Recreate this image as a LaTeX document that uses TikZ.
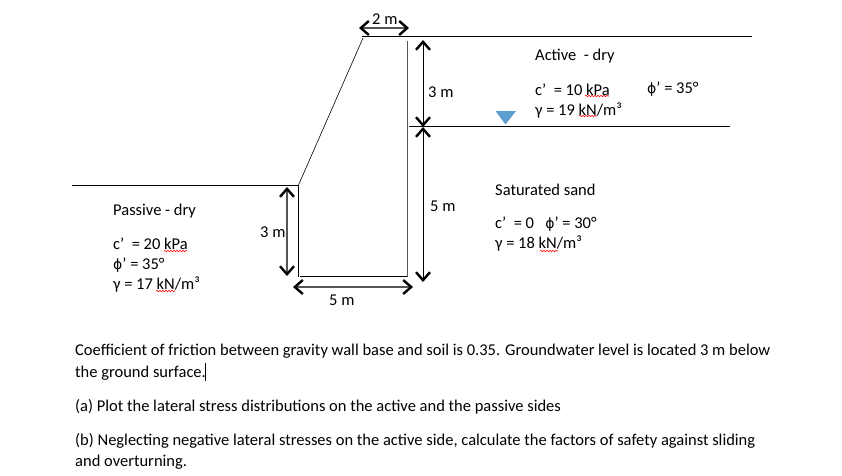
\documentclass[tikz,border=0pt]{standalone}
\usepackage{fontspec}
\setmainfont{Carlito}
\usetikzlibrary{arrows.meta,decorations.pathmorphing}
\definecolor{watercol}{HTML}{5F9FCF}
\definecolor{shaftcol}{HTML}{555555}
\tikzset{
    lbl/.style={anchor=base west, inner sep=0pt, font=\fontsize{16.5}{19}\selectfont},
    dimline/.style={{Straight Barb[length=8pt,width=14pt,line width=2.4pt,color=black]}-{Straight Barb[length=8pt,width=14pt,line width=2.4pt,color=black]}, draw=shaftcol, line width=1.2pt},
    squiggle/.style={red, line width=0.6pt, decorate, decoration={snake, amplitude=0.7pt, segment length=3pt}}
}
\newcommand{\phichar}{\fontspec{DejaVu Sans}\fontsize{14}{16}\selectfont ϕ}
\begin{document}
\begin{tikzpicture}[x=1pt,y=-1pt]
    \useasboundingbox (0,0) rectangle (842,475);

    % ground and wall
    \coordinate (wallTL) at (363,38);
    \coordinate (wallKnee) at (298.5,185);
    \coordinate (wallBL) at (298.5,277);
    \coordinate (wallBR) at (407,276.5);
    \coordinate (wallTR) at (407,41);
    \coordinate (passiveEnd) at (72,185);
    \coordinate (activeStart) at (362,36.5);
    \coordinate (activeEnd) at (752,36.5);
    \coordinate (waterStart) at (409,126.5);
    \coordinate (waterEnd) at (730,126.5);

    \draw[line width=0.8pt] (activeStart) -- (activeEnd);
    \draw[line width=0.8pt] (waterStart) -- (waterEnd);
    \draw[line width=0.8pt] (passiveEnd) -- (wallKnee);
    \draw[line width=0.6pt] (wallTL) -- (wallKnee);
    \draw[line width=0.8pt] (wallKnee) -- (wallBL);
    \draw[line width=0.8pt] (300,276.5) -- (wallBR);
    \draw[draw=shaftcol, line width=0.9pt] (wallTR) -- (wallBR);

    % water table
    \fill[watercol] (495.5,111) -- (516,111) -- (505.5,124.5) -- cycle;

    % dimensions
    \coordinate (dimTopA) at (359,28);
    \coordinate (dimTopB) at (409,28);
    \coordinate (dimA) at (423,40);
    \coordinate (dimB) at (423,127);
    \coordinate (dimC) at (423,282);
    \coordinate (dimLeftA) at (287,187);
    \coordinate (dimLeftB) at (287,276);
    \coordinate (dimBaseA) at (293,287);
    \coordinate (dimBaseB) at (413,287);

    \draw[dimline] (dimTopA) -- (dimTopB);
    \draw[dimline, draw=black, line width=0.7pt] (dimA) -- (dimB);
    \draw[dimline, draw=black, line width=0.7pt] (dimB) -- (dimC);
    \draw[dimline] (dimLeftA) -- (dimLeftB);
    \draw[dimline] (dimBaseA) -- (dimBaseB);

    \node[lbl] (lblTop) at (372,24) {2 m};
    \node[lbl] (lblUpper) at (428,97) {3 m};
    \node[lbl] (lblLower) at (430,211) {5 m};
    \node[lbl] (lblLeft) at (260,237) {3 m};
    \node[lbl] (lblBase) at (329,305) {5 m};

    % active side
    \node[lbl] (activeName) at (535,60) {Active\ \ - dry};
    \node[lbl] (activeC) at (535,95) {c'\ \ = 10 kPa};
    \node[lbl] (activeG) at (535,115) {γ = 19 kN/m³};
    \node[lbl] (activeP) at (647,93) {{\phichar}’ = 35°};
    \draw[squiggle] (585,96) -- (609,96);
    \draw[squiggle] (579,116) -- (597,116);

    % saturated side
    \node[lbl] (satName) at (495,195) {Saturated sand};
    \node[lbl] (satC) at (495,228) {c'\ \ = 0\ \ \ {\phichar}’ = 30°};
    \node[lbl] (satG) at (495,248) {γ = 18 kN/m³};
    \draw[squiggle] (540,251) -- (558,251);

    % passive side
    \node[lbl] (passName) at (113,215) {Passive - dry};
    \node[lbl] (passC) at (113,249) {c'\ \ = 20 kPa};
    \node[lbl] (passP) at (113,269) {{\phichar}’ = 35°};
    \node[lbl] (passG) at (113,289) {γ = 17 kN/m³};
    \draw[squiggle] (164,251) -- (187,251);
    \draw[squiggle] (156,291) -- (175,291);

    % question text
    \node[lbl] (txtA) at (75,355) {Coefficient of friction between gravity wall base and soil is 0.35. Groundwater level is located 3 m below};
    \node[lbl] (txtB) at (75,377) {the ground surface.};
    \draw[line width=0.6pt] (205,363) -- (205,381);
    \node[lbl] (txtC) at (75,411) {(a) Plot the lateral stress distributions on the active and the passive sides};
    \node[lbl] (txtD) at (75,445) {(b) Neglecting negative lateral stresses on the active side, calculate the factors of safety against sliding};
    \node[lbl] (txtE) at (75,466) {and overturning.};
\end{tikzpicture}
\end{document}
